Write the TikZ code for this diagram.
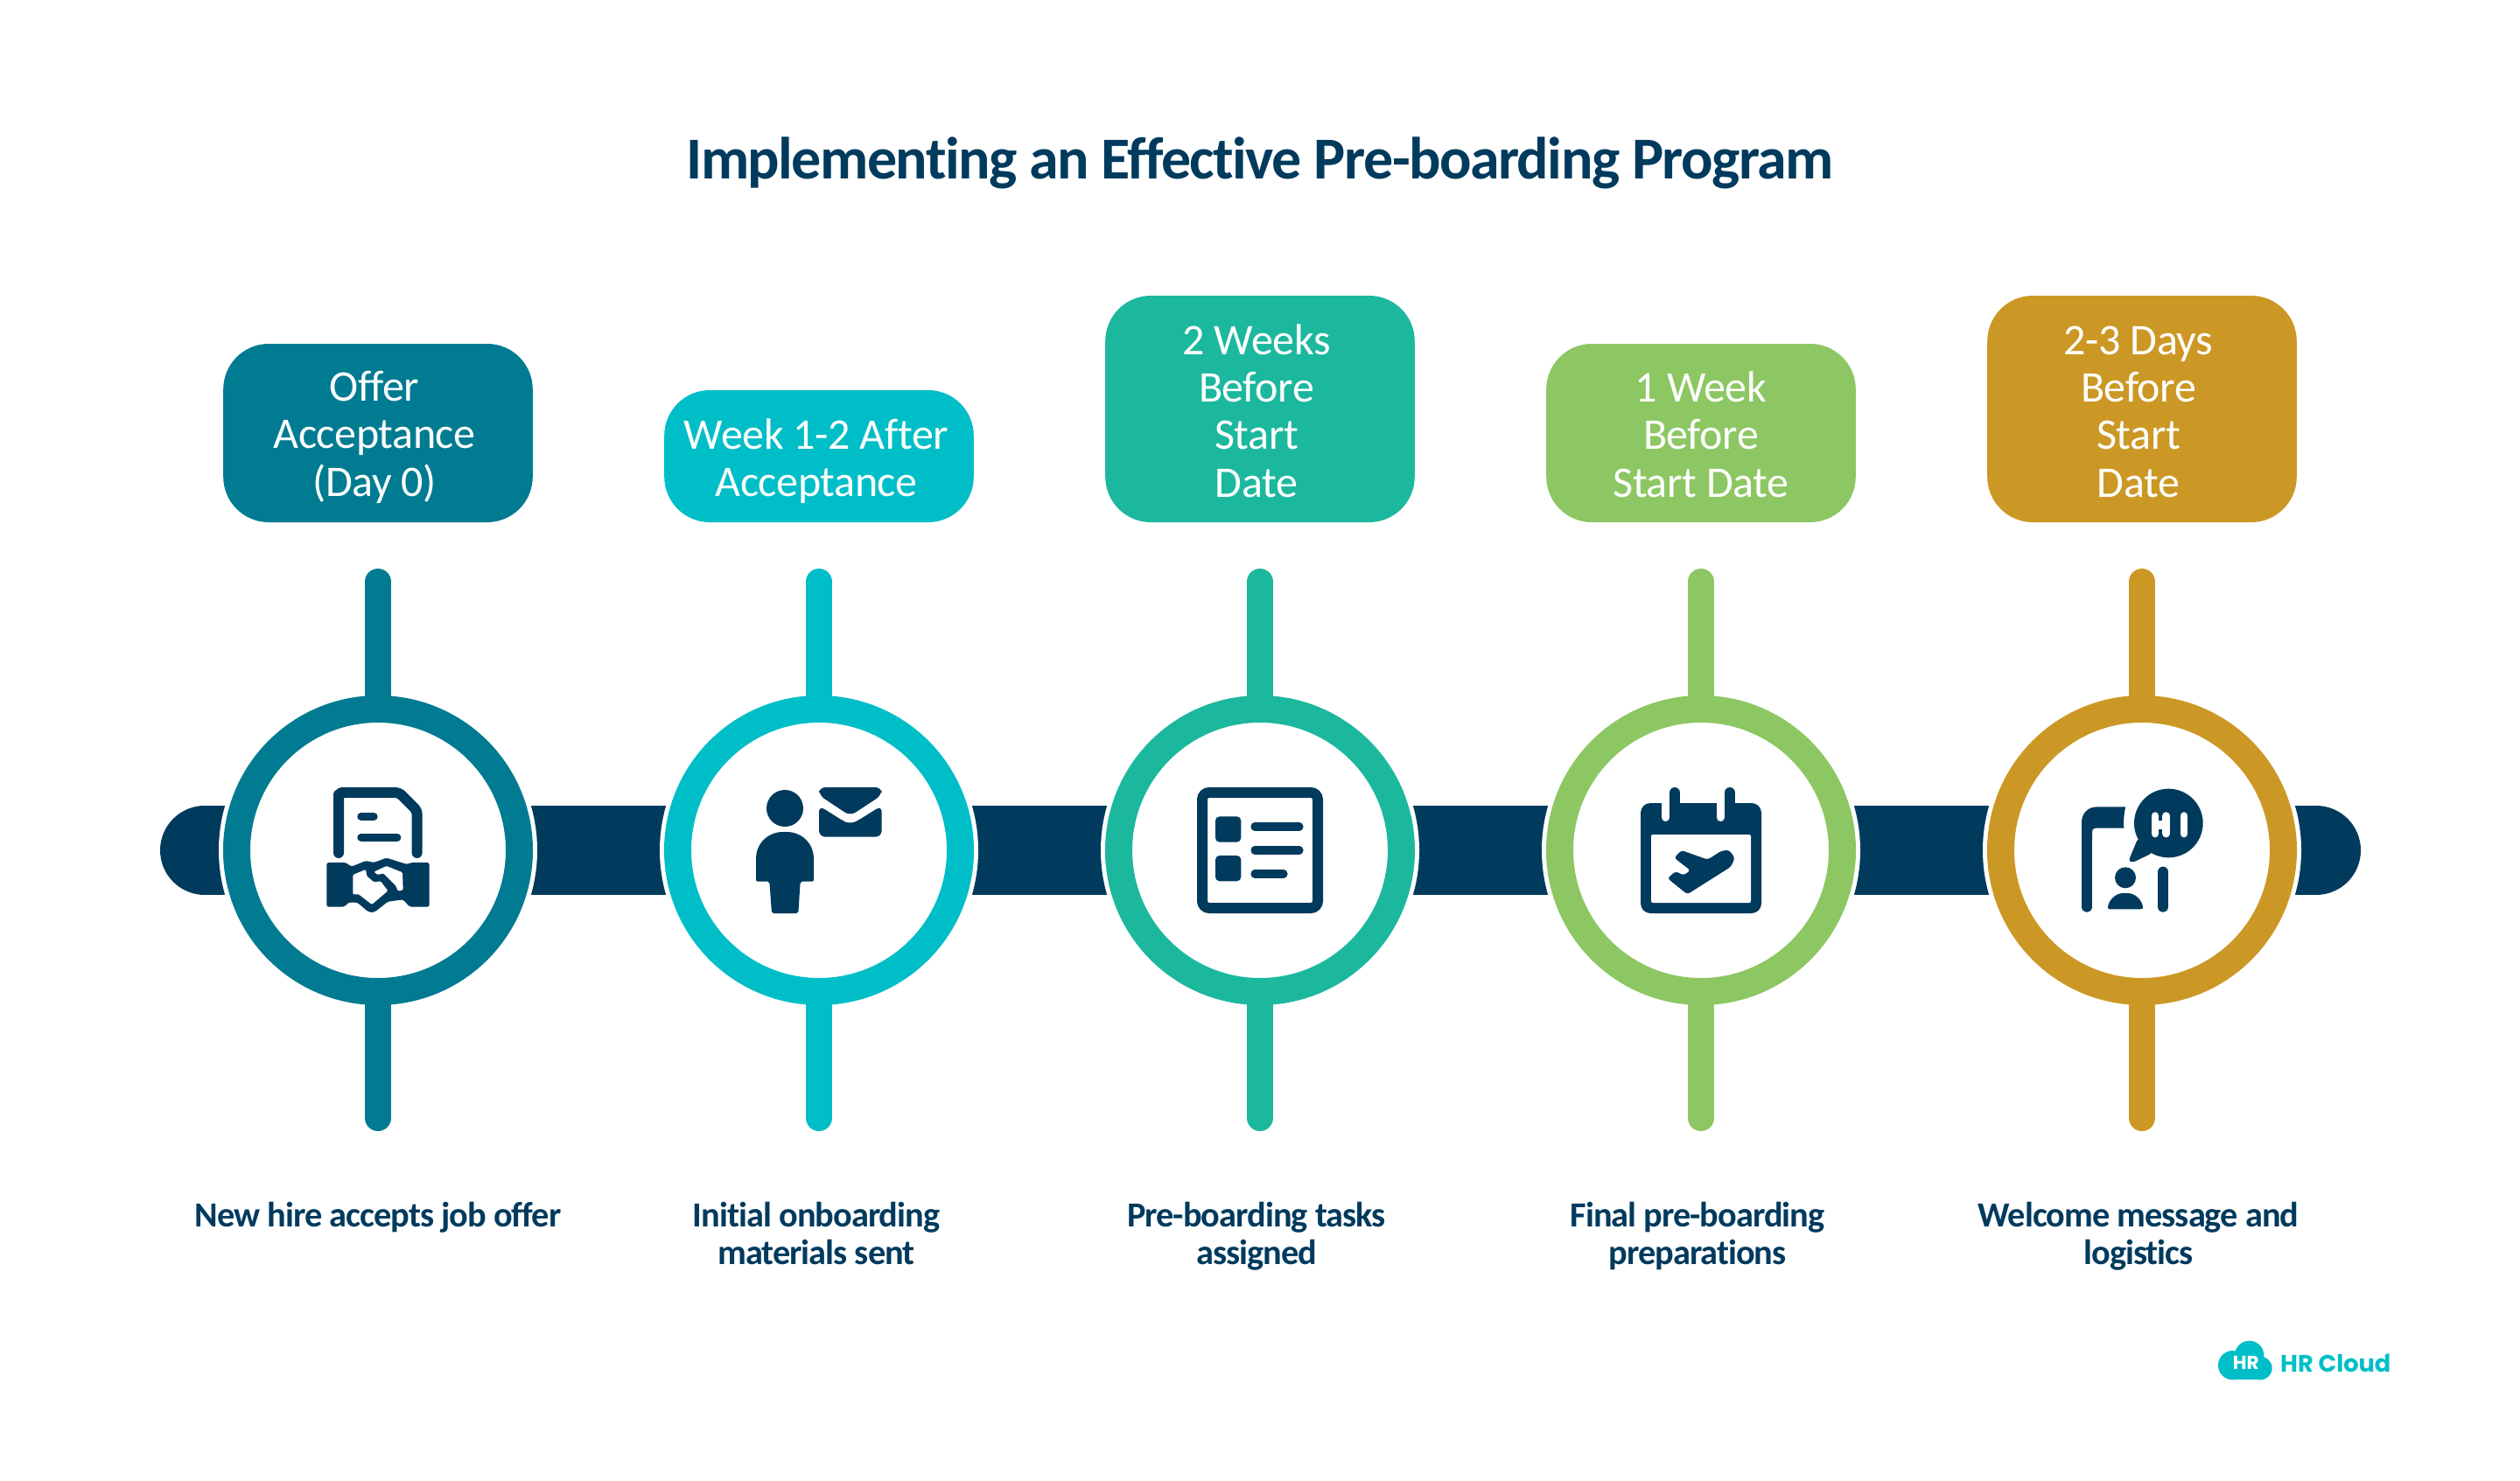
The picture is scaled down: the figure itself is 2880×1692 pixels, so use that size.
\documentclass[tikz,border=0pt]{standalone}
\usepackage{fontspec}
\setmainfont[Ligatures=NoCommon]{Carlito}
\newfontfamily\titlefont[Ligatures=NoCommon,LetterSpace=-2.3]{Carlito}
\newfontfamily\datefont[Ligatures=NoCommon,LetterSpace=-0.8]{Carlito}
\newfontfamily\captionfont[Ligatures=NoCommon,LetterSpace=-2.4]{Carlito}
\newfontfamily\logofont{Poppins}
\usetikzlibrary{backgrounds}
\definecolor{navy}{HTML}{003A5D}
\definecolor{cteal}{HTML}{007B91}
\definecolor{ccyan}{HTML}{00BEC8}
\definecolor{cgreen}{HTML}{1CB89E}
\definecolor{clime}{HTML}{8CC763}
\definecolor{cgold}{HTML}{CC9825}
\tikzset{
  ring/.style={circle,draw=#1,line width=7.75pt,fill=white,minimum size=80.75pt,inner sep=0pt},
  halo/.style={circle,fill=white,minimum size=91pt,inner sep=0pt},
  stemline/.style={draw=#1,line width=7.5pt,line cap=round},
  datebox/.style={rectangle,rounded corners=13pt,fill=#1,minimum width=88.4pt,inner sep=0pt},
  datetext/.style={text=white,align=center,inner sep=0pt,font=\datefont\fontsize{12.5}{13.55}\selectfont},
  caption/.style={text=navy,align=center,font=\captionfont\bfseries\fontsize{10.08}{10.8}\selectfont,inner sep=0pt},
  icon/.style={x=0.08333pt,y=-0.08333pt,navy},
  iconline/.style={draw=navy,line width=#1,line cap=round,line join=round}
}
\newcommand{\st}{\strut}
\begin{document}
\begin{tikzpicture}[x=0.25pt,y=-0.25pt]
\useasboundingbox (0,0) rectangle (2880,1692);
\node[text=navy,font=\titlefont\bfseries\fontsize{17}{20}\selectfont,inner sep=0pt] (title) at (1440,186.5) {Implementing an Effective Pre-boarding Program};

% timeline bar
\coordinate (barL) at (234,972);
\coordinate (barR) at (2647,972);
\begin{scope}[on background layer]
\draw[navy,line width=25.5pt,line cap=round] (barL) -- (barR);
\end{scope}

% stations
\foreach \i/\x/\c in {1/432/cteal,2/936/ccyan,3/1440/cgreen,4/1944/clime,5/2448/cgold}{
  \node[ring=\c] (c\i) at (\x,972) {};
  \coordinate (t\i) at (\x,665);
  \coordinate (b\i) at (\x,1278);
  \begin{scope}[on background layer]
    \node[halo] (h\i) at (\x,972) {};
    \draw[stemline=\c] (t\i) -- (c\i.center);
    \draw[stemline=\c] (b\i) -- (c\i.center);
  \end{scope}
}

% date boxes
\node[datebox=cteal,minimum height=51pt] (d1) at (432,495) {};
\node[datebox=ccyan,minimum height=37.75pt] (d2) at (936,521.5) {};
\node[datebox=cgreen,minimum height=64.75pt] (d3) at (1440,467.5) {};
\node[datebox=clime,minimum height=51pt] (d4) at (1944,495) {};
\node[datebox=cgold,minimum height=64.75pt] (d5) at (2448,467.5) {};
\node[datetext] (e1) at (428,502) {\st Offer\\\st Acceptance\\\st (Day 0)};
\node[datetext] (e2) at (933,530) {\st Week 1-2 After\\\st Acceptance};
\node[datetext] (e3) at (1436,476) {\st 2 Weeks\\\st Before\\\st Start\\\st Date};
\node[datetext] (e4) at (1944,503) {\st 1 Week\\\st Before\\\st Start Date};
\node[datetext] (e5) at (2444,476) {\st 2-3 Days\\\st Before\\\st Start\\\st Date};

% captions
\node[caption] (k1) at (432,1394) {\st New hire accepts job offer};
\node[caption] (k2) at (933,1415.5) {\st Initial onboarding\\\st materials sent};
\node[caption] (k3) at (1436,1415.5) {\st Pre-boarding tasks\\\st assigned};
\node[caption] (k4) at (1940,1415.5) {\st Final pre-boarding\\\st preparations};
\node[caption] (k5) at (2444,1415.5) {\st Welcome message and\\\st logistics};

% icon 1: document and handshake
\begin{scope}[shift={(340,860)},icon]
\draw[iconline=3pt] (141,345) -- (141,145) [rounded corners=1pt] -- (141,138) -- (348,138) -- (410,200) -- (410,345);
\draw[iconline=2.2pt] (218,220) -- (262,220);
\draw[iconline=2.2pt] (218,292) -- (342,292);
\fill[rounded corners=0.6pt] (100,378) -- (165,378) -- (185,392) -- (235,372) -- (262,378) -- (305,362) -- (375,384) -- (392,378) -- (452,378) -- (452,530) -- (385,530) -- (362,505) -- (310,512) -- (268,545) -- (255,550) -- (240,545) -- (205,515) -- (175,515) -- (160,530) -- (100,530) -- cycle;
\fill[white,rounded corners=0.3pt] (190,420) -- (234,402) -- (238,425) -- (262,445) -- (285,442) -- (310,475) -- (255,522) -- (210,487) -- (190,487) -- cycle;
\fill[white,rounded corners=0.3pt] (262,410) -- (305,390) -- (360,412) -- (362,472) -- (345,476) -- (335,455) -- (295,415) -- (275,420) -- cycle;
\end{scope}

% icon 2: person and envelope
\begin{scope}[shift={(840,860)},icon]
\fill (171,192) circle[radius=63];
\fill[rounded corners=0.5pt] (72,443) -- (72,372) .. controls (72,310) and (115,273) .. (171,273) .. controls (227,273) and (270,310) .. (270,372) -- (270,443) -- (224,443) -- (217,552) -- (126,552) -- (118,443) -- cycle;
\fill[rounded corners=1.8pt] (288,120) -- (503,120) -- (503,147) -- (395,218) -- (288,147) -- cycle;
\fill[rounded corners=1.8pt] (288,183) -- (375,238) -- (395,246) -- (415,238) -- (503,183) -- (503,290) -- (288,290) -- cycle;
\end{scope}

% icon 3: checklist
\begin{scope}[shift={(1350,860)},icon]
\draw[navy,line width=3pt,rounded corners=2pt] (72,138) rectangle (468,534);
\fill[rounded corners=1.2pt] (117,220) rectangle (205,308);
\fill[rounded corners=1.2pt] (117,354) rectangle (205,442);
\draw[iconline=2.3pt] (252,255) -- (405,255);
\draw[iconline=2.3pt] (252,336) -- (405,336);
\draw[iconline=2.3pt] (252,417) -- (351,417);
\end{scope}

% icon 4: calendar with plane
\begin{scope}[shift={(1860,860)},icon]
\fill[rounded corners=2.8pt] (45,174) rectangle (459,552);
\fill[white,rounded corners=0.5pt] (81,282) rectangle (423,516);
\draw[white,line width=2.35pt,line cap=round] (131,165) -- (131,223);
\draw[white,line width=2.35pt,line cap=round] (319,165) -- (319,223);
\draw[iconline=3pt] (162,138) -- (162,200);
\draw[iconline=3pt] (351,138) -- (351,200);
\fill[rounded corners=0.8pt] (160,362) -- (185,336) -- (275,368) -- (322,338) -- (348,335) -- (368,362) -- (355,392) -- (205,487) -- (137,432) -- (165,408) -- (192,422) -- (216,405) -- cycle;
\end{scope}

% icon 5: screen with greeting
\begin{scope}[shift={(2360,860)},icon]
\fill (57,300) -- (57,240) .. controls (57,208) and (80,187) .. (110,187) -- (208,187) .. controls (202,205) and (200,240) .. (202,260) -- (105,260) .. controls (97,260) and (93,264) .. (93,272) -- (93,300) -- cycle;
\draw[iconline=3pt] (75,295) -- (75,530);
\fill (355,243) circle[radius=118];
\fill[rounded corners=0.8pt] (250,295) -- (218,372) -- (232,378) -- (300,345) -- cycle;
\draw[white,line width=2.2pt,line cap=round] (309,218) -- (309,279);
\draw[white,line width=2.2pt,line cap=round] (347,218) -- (347,279);
\draw[white,line width=2.5pt] (309,249) -- (347,249);
\draw[white,line width=2.2pt,line cap=round] (408,218) -- (408,279);
\fill (207,430) circle[radius=36];
\fill[rounded corners=0.6pt] (146,538) .. controls (150,505) and (175,483) .. (207,483) .. controls (239,483) and (264,505) .. (268,538) -- cycle;
\draw[iconline=3pt] (336,410) -- (336,530);
\end{scope}

% logo
\begin{scope}[shift={(2530,1520)},x=0.08333pt,y=-0.08333pt]
\fill[ccyan] (65,122) circle[radius=50];
\fill[ccyan] (122,88) circle[radius=50];
\fill[ccyan] (160,132) circle[radius=40];
\fill[ccyan] (65,120) rectangle (160,172);
\node[text=white,font=\logofont\bfseries\fontsize{5.4}{6}\selectfont,inner sep=0pt] (logoHR) at (110,115) {HR};
\node[text=ccyan,font=\logofont\bfseries\fontsize{6.8}{8}\selectfont,inner sep=0pt,anchor=west] (logoName) at (226,115) {HR Cloud};
\node[text=ccyan,font=\logofont\fontsize{1.8}{2}\selectfont,inner sep=0pt] (logoR) at (598,91) {®};
\end{scope}
\end{tikzpicture}
\end{document}
